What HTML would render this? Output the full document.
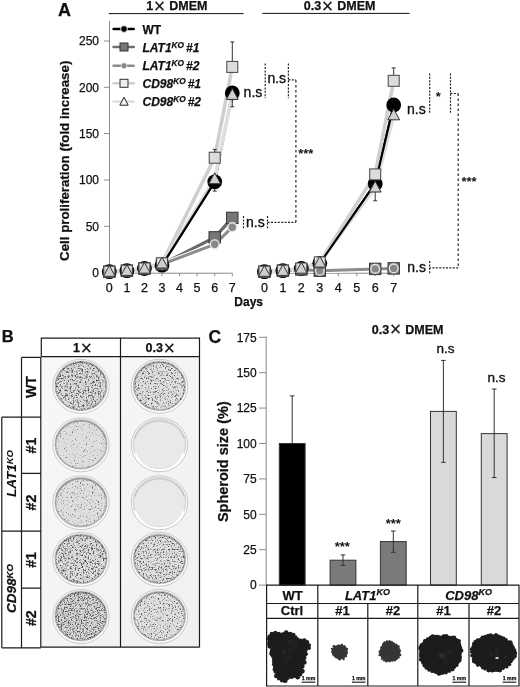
<!DOCTYPE html>
<html><head><meta charset="utf-8"><style>
html,body{margin:0;padding:0;background:#fff;width:520px;height:687px;overflow:hidden}
svg{display:block}
text{font-family:"Liberation Sans",Arial,sans-serif;fill:#111;stroke:#111;stroke-width:0.25px}
.b{font-weight:bold}
.i{font-style:italic}
.bi{font-weight:bold;font-style:italic}
.x{font-family:"DejaVu Sans",sans-serif;font-weight:normal}
.ns{stroke:#111;stroke-width:0.35px}
.st{stroke-width:0}
</style></head><body>
<svg width="520" height="687" viewBox="0 0 520 687">
<defs>
<linearGradient id="bgB" x1="0" y1="0" x2="1" y2="1"><stop offset="0" stop-color="#f8f8f8"/><stop offset="1" stop-color="#f0f0f0"/></linearGradient>
<filter id="bl"><feGaussianBlur stdDeviation="0.4"/></filter>
<filter id="sp_dense" x="0" y="0" width="1" height="1" filterUnits="objectBoundingBox" color-interpolation-filters="sRGB"><feTurbulence type="fractalNoise" baseFrequency="0.6" numOctaves="4" seed="3"/><feColorMatrix type="matrix" values="0 0 0 0 0.3  0 0 0 0 0.3  0 0 0 0 0.3  -4.000 0 0 0 2.037"/><feGaussianBlur stdDeviation="0.55"/></filter>
<filter id="sp_dense2" x="0" y="0" width="1" height="1" filterUnits="objectBoundingBox" color-interpolation-filters="sRGB"><feTurbulence type="fractalNoise" baseFrequency="0.7" numOctaves="4" seed="4"/><feColorMatrix type="matrix" values="0 0 0 0 0.3  0 0 0 0 0.3  0 0 0 0 0.3  -4.000 0 0 0 2.099"/><feGaussianBlur stdDeviation="0.5"/></filter>
<filter id="sp_med" x="0" y="0" width="1" height="1" filterUnits="objectBoundingBox" color-interpolation-filters="sRGB"><feTurbulence type="fractalNoise" baseFrequency="0.6" numOctaves="4" seed="5"/><feColorMatrix type="matrix" values="0 0 0 0 0.3  0 0 0 0 0.3  0 0 0 0 0.3  -4.000 0 0 0 1.884"/><feGaussianBlur stdDeviation="0.55"/></filter>
<filter id="sp_med2" x="0" y="0" width="1" height="1" filterUnits="objectBoundingBox" color-interpolation-filters="sRGB"><feTurbulence type="fractalNoise" baseFrequency="0.65" numOctaves="4" seed="6"/><feColorMatrix type="matrix" values="0 0 0 0 0.3  0 0 0 0 0.3  0 0 0 0 0.3  -4.000 0 0 0 1.830"/><feGaussianBlur stdDeviation="0.55"/></filter>
<filter id="sp_med3" x="0" y="0" width="1" height="1" filterUnits="objectBoundingBox" color-interpolation-filters="sRGB"><feTurbulence type="fractalNoise" baseFrequency="0.65" numOctaves="4" seed="7"/><feColorMatrix type="matrix" values="0 0 0 0 0.3  0 0 0 0 0.3  0 0 0 0 0.3  -4.000 0 0 0 1.965"/><feGaussianBlur stdDeviation="0.55"/></filter>
<filter id="sp_light" x="0" y="0" width="1" height="1" filterUnits="objectBoundingBox" color-interpolation-filters="sRGB"><feTurbulence type="fractalNoise" baseFrequency="0.65" numOctaves="4" seed="9"/><feColorMatrix type="matrix" values="0 0 0 0 0.3  0 0 0 0 0.3  0 0 0 0 0.3  -4.000 0 0 0 1.458"/><feGaussianBlur stdDeviation="0.5"/></filter>
<filter id="sp_light2" x="0" y="0" width="1" height="1" filterUnits="objectBoundingBox" color-interpolation-filters="sRGB"><feTurbulence type="fractalNoise" baseFrequency="0.65" numOctaves="4" seed="10"/><feColorMatrix type="matrix" values="0 0 0 0 0.3  0 0 0 0 0.3  0 0 0 0 0.3  -4.000 0 0 0 1.578"/><feGaussianBlur stdDeviation="0.5"/></filter>
<clipPath id="dc00"><ellipse cx="81.0" cy="385.8" rx="25.9" ry="24.6"/></clipPath>
<clipPath id="dc01"><ellipse cx="159.5" cy="385.8" rx="25.9" ry="24.6"/></clipPath>
<clipPath id="dc10"><ellipse cx="81.0" cy="444.3" rx="25.9" ry="24.6"/></clipPath>
<clipPath id="dc11"><ellipse cx="159.5" cy="444.3" rx="25.9" ry="24.6"/></clipPath>
<clipPath id="dc20"><ellipse cx="81.0" cy="502.2" rx="25.9" ry="24.6"/></clipPath>
<clipPath id="dc21"><ellipse cx="159.5" cy="502.2" rx="25.9" ry="24.6"/></clipPath>
<clipPath id="dc30"><ellipse cx="81.0" cy="558.8" rx="25.9" ry="24.6"/></clipPath>
<clipPath id="dc31"><ellipse cx="159.5" cy="558.8" rx="25.9" ry="24.6"/></clipPath>
<clipPath id="dc40"><ellipse cx="81.0" cy="616.0" rx="25.9" ry="24.6"/></clipPath>
<clipPath id="dc41"><ellipse cx="159.5" cy="616.0" rx="25.9" ry="24.6"/></clipPath>
</defs>
<rect width="520" height="687" fill="#fff"/>
<text x="58" y="16.4" class="b" font-size="18">A</text>
<text x="146.3" y="10.4" class="b" font-size="12.5">1<tspan class="x" font-size="15" dy="0.6">×</tspan><tspan dy="-0.6"> DMEM</tspan></text>
<line x1="108.7" y1="13.6" x2="243.6" y2="13.6" stroke="#111" stroke-width="1"/>
<text x="303.8" y="10.4" class="b" font-size="12.5">0.3<tspan class="x" font-size="15" dy="0.6">×</tspan><tspan dy="-0.6"> DMEM</tspan></text>
<line x1="262.4" y1="13.4" x2="409.5" y2="13.4" stroke="#111" stroke-width="1"/>
<text transform="translate(69.2,160.8) rotate(-90)" class="b" font-size="13.3" text-anchor="middle">Cell proliferation (fold increase)</text>
<line x1="109.5" y1="21" x2="109.5" y2="273.2" stroke="#8a8a8a" stroke-width="1"/>
<line x1="104" y1="272.6" x2="109.5" y2="272.6" stroke="#8a8a8a" stroke-width="1"/>
<text x="99" y="276.9" font-size="12" text-anchor="end">0</text>
<line x1="104" y1="226.3" x2="109.5" y2="226.3" stroke="#8a8a8a" stroke-width="1"/>
<text x="99" y="230.6" font-size="12" text-anchor="end">50</text>
<line x1="104" y1="180.0" x2="109.5" y2="180.0" stroke="#8a8a8a" stroke-width="1"/>
<text x="99" y="184.3" font-size="12" text-anchor="end">100</text>
<line x1="104" y1="133.6" x2="109.5" y2="133.6" stroke="#8a8a8a" stroke-width="1"/>
<text x="99" y="137.9" font-size="12" text-anchor="end">150</text>
<line x1="104" y1="87.3" x2="109.5" y2="87.3" stroke="#8a8a8a" stroke-width="1"/>
<text x="99" y="91.6" font-size="12" text-anchor="end">200</text>
<line x1="104" y1="41.0" x2="109.5" y2="41.0" stroke="#8a8a8a" stroke-width="1"/>
<text x="99" y="45.3" font-size="12" text-anchor="end">250</text>
<line x1="109.3" y1="273.2" x2="232.3" y2="273.2" stroke="#8a8a8a" stroke-width="1"/>
<line x1="109.3" y1="273.2" x2="109.3" y2="276.2" stroke="#8a8a8a" stroke-width="1"/>
<text x="109.3" y="291.5" font-size="12.5" text-anchor="middle">0</text>
<line x1="126.9" y1="273.2" x2="126.9" y2="276.2" stroke="#8a8a8a" stroke-width="1"/>
<text x="126.9" y="291.5" font-size="12.5" text-anchor="middle">1</text>
<line x1="144.4" y1="273.2" x2="144.4" y2="276.2" stroke="#8a8a8a" stroke-width="1"/>
<text x="144.4" y="291.5" font-size="12.5" text-anchor="middle">2</text>
<line x1="162.0" y1="273.2" x2="162.0" y2="276.2" stroke="#8a8a8a" stroke-width="1"/>
<text x="162.0" y="291.5" font-size="12.5" text-anchor="middle">3</text>
<line x1="179.6" y1="273.2" x2="179.6" y2="276.2" stroke="#8a8a8a" stroke-width="1"/>
<text x="179.6" y="291.5" font-size="12.5" text-anchor="middle">4</text>
<line x1="197.1" y1="273.2" x2="197.1" y2="276.2" stroke="#8a8a8a" stroke-width="1"/>
<text x="197.1" y="291.5" font-size="12.5" text-anchor="middle">5</text>
<line x1="214.7" y1="273.2" x2="214.7" y2="276.2" stroke="#8a8a8a" stroke-width="1"/>
<text x="214.7" y="291.5" font-size="12.5" text-anchor="middle">6</text>
<line x1="232.3" y1="273.2" x2="232.3" y2="276.2" stroke="#8a8a8a" stroke-width="1"/>
<text x="232.3" y="291.5" font-size="12.5" text-anchor="middle">7</text>
<line x1="264.4" y1="273.2" x2="393.7" y2="273.2" stroke="#8a8a8a" stroke-width="1"/>
<line x1="264.4" y1="273.2" x2="264.4" y2="276.2" stroke="#8a8a8a" stroke-width="1"/>
<text x="264.4" y="291.5" font-size="12.5" text-anchor="middle">0</text>
<line x1="282.9" y1="273.2" x2="282.9" y2="276.2" stroke="#8a8a8a" stroke-width="1"/>
<text x="282.9" y="291.5" font-size="12.5" text-anchor="middle">1</text>
<line x1="301.3" y1="273.2" x2="301.3" y2="276.2" stroke="#8a8a8a" stroke-width="1"/>
<text x="301.3" y="291.5" font-size="12.5" text-anchor="middle">2</text>
<line x1="319.8" y1="273.2" x2="319.8" y2="276.2" stroke="#8a8a8a" stroke-width="1"/>
<text x="319.8" y="291.5" font-size="12.5" text-anchor="middle">3</text>
<line x1="338.3" y1="273.2" x2="338.3" y2="276.2" stroke="#8a8a8a" stroke-width="1"/>
<text x="338.3" y="291.5" font-size="12.5" text-anchor="middle">4</text>
<line x1="356.8" y1="273.2" x2="356.8" y2="276.2" stroke="#8a8a8a" stroke-width="1"/>
<text x="356.8" y="291.5" font-size="12.5" text-anchor="middle">5</text>
<line x1="375.2" y1="273.2" x2="375.2" y2="276.2" stroke="#8a8a8a" stroke-width="1"/>
<text x="375.2" y="291.5" font-size="12.5" text-anchor="middle">6</text>
<line x1="393.7" y1="273.2" x2="393.7" y2="276.2" stroke="#8a8a8a" stroke-width="1"/>
<text x="393.7" y="291.5" font-size="12.5" text-anchor="middle">7</text>
<text x="248.7" y="306.2" class="b" font-size="12" text-anchor="middle">Days</text>
<polyline points="109.3,271.7 126.9,270.7 144.4,268.5 162.0,265.2 214.7,181.8 232.3,92.9" fill="none" stroke="#000" stroke-width="2.4" stroke-linejoin="round"/>
<polyline points="109.3,271.7 126.9,270.7 144.4,268.5 162.0,264.3 214.7,237.4 232.3,217.9" fill="none" stroke="#6a6a6a" stroke-width="3.2" stroke-linejoin="round"/>
<polyline points="109.3,271.7 126.9,270.7 144.4,268.5 162.0,264.3 214.7,244.3 232.3,227.2" fill="none" stroke="#fff" stroke-width="5.0" stroke-linejoin="round"/>
<polyline points="109.3,271.7 126.9,270.7 144.4,268.5 162.0,264.3 214.7,244.3 232.3,227.2" fill="none" stroke="#8c8c8c" stroke-width="3.0" stroke-linejoin="round"/>
<polyline points="109.3,271.7 126.9,270.7 144.4,268.5 162.0,263.3 214.7,157.7 232.3,66.9" fill="none" stroke="#cfcfcf" stroke-width="3.6" stroke-linejoin="round"/>
<polyline points="109.3,271.7 126.9,270.7 144.4,268.5 162.0,263.3 214.7,179.0 232.3,94.7" fill="none" stroke="#dedede" stroke-width="3.6" stroke-linejoin="round"/>
<polyline points="162.0,265.2 214.7,181.8" fill="none" stroke="#000" stroke-width="2.1" stroke-linejoin="round"/>
<line x1="214.7" y1="181.8" x2="214.7" y2="191.1" stroke="#333" stroke-width="1"/>
<line x1="212.7" y1="191.1" x2="216.7" y2="191.1" stroke="#333" stroke-width="1"/>
<line x1="232.3" y1="92.9" x2="232.3" y2="106.8" stroke="#333" stroke-width="1"/>
<line x1="230.3" y1="106.8" x2="234.3" y2="106.8" stroke="#333" stroke-width="1"/>
<line x1="214.7" y1="149.4" x2="214.7" y2="157.7" stroke="#333" stroke-width="1"/>
<line x1="212.7" y1="149.4" x2="216.7" y2="149.4" stroke="#333" stroke-width="1"/>
<line x1="232.3" y1="41.9" x2="232.3" y2="66.9" stroke="#333" stroke-width="1"/>
<line x1="230.3" y1="41.9" x2="234.3" y2="41.9" stroke="#333" stroke-width="1"/>
<circle cx="109.3" cy="271.7" r="7.4" fill="#000"/>
<circle cx="126.9" cy="270.7" r="7.4" fill="#000"/>
<circle cx="144.4" cy="268.5" r="7.4" fill="#000"/>
<circle cx="162.0" cy="265.2" r="7.4" fill="#000"/>
<circle cx="214.7" cy="181.8" r="7.4" fill="#000"/>
<circle cx="232.3" cy="92.9" r="7.4" fill="#000"/>
<rect x="103.6" y="266.0" width="11.4" height="11.4" fill="#777" stroke="#333" stroke-width="1"/>
<rect x="121.2" y="265.0" width="11.4" height="11.4" fill="#777" stroke="#333" stroke-width="1"/>
<rect x="138.7" y="262.8" width="11.4" height="11.4" fill="#777" stroke="#333" stroke-width="1"/>
<rect x="156.3" y="258.6" width="11.4" height="11.4" fill="#777" stroke="#333" stroke-width="1"/>
<rect x="209.0" y="231.7" width="11.4" height="11.4" fill="#777" stroke="#333" stroke-width="1"/>
<rect x="226.6" y="212.2" width="11.4" height="11.4" fill="#777" stroke="#333" stroke-width="1"/>
<circle cx="109.3" cy="271.7" r="4.4" fill="#888" stroke="#e6e6e6" stroke-width="1.4"/>
<circle cx="126.9" cy="270.7" r="4.4" fill="#888" stroke="#e6e6e6" stroke-width="1.4"/>
<circle cx="144.4" cy="268.5" r="4.4" fill="#888" stroke="#e6e6e6" stroke-width="1.4"/>
<circle cx="162.0" cy="264.3" r="4.4" fill="#888" stroke="#e6e6e6" stroke-width="1.4"/>
<circle cx="214.7" cy="244.3" r="4.4" fill="#888" stroke="#e6e6e6" stroke-width="1.4"/>
<circle cx="232.3" cy="227.2" r="4.4" fill="#888" stroke="#e6e6e6" stroke-width="1.4"/>
<rect x="103.8" y="266.2" width="11.0" height="11.0" fill="#dcdcdc" stroke="#444" stroke-width="1"/>
<rect x="121.4" y="265.2" width="11.0" height="11.0" fill="#dcdcdc" stroke="#444" stroke-width="1"/>
<rect x="138.9" y="263.0" width="11.0" height="11.0" fill="#dcdcdc" stroke="#444" stroke-width="1"/>
<rect x="156.5" y="257.8" width="11.0" height="11.0" fill="#dcdcdc" stroke="#444" stroke-width="1"/>
<rect x="209.2" y="152.2" width="11.0" height="11.0" fill="#dcdcdc" stroke="#444" stroke-width="1"/>
<rect x="226.8" y="61.4" width="11.0" height="11.0" fill="#dcdcdc" stroke="#444" stroke-width="1"/>
<path d="M109.3,265.5 L115.2,276.3 L103.4,276.3Z" fill="#cfcfcf" stroke="#333" stroke-width="1"/>
<path d="M126.9,264.5 L132.8,275.4 L121.0,275.4Z" fill="#cfcfcf" stroke="#333" stroke-width="1"/>
<path d="M144.4,262.3 L150.3,273.2 L138.6,273.2Z" fill="#cfcfcf" stroke="#333" stroke-width="1"/>
<path d="M162.0,257.1 L167.9,268.0 L156.1,268.0Z" fill="#cfcfcf" stroke="#333" stroke-width="1"/>
<path d="M214.7,172.8 L220.6,183.7 L208.8,183.7Z" fill="#cfcfcf" stroke="#333" stroke-width="1"/>
<path d="M232.3,88.5 L238.2,99.4 L226.4,99.4Z" fill="#cfcfcf" stroke="#333" stroke-width="1"/>
<polyline points="264.4,271.7 282.9,270.7 301.3,268.5 319.8,263.3 375.2,183.7 393.7,104.9" fill="none" stroke="#000" stroke-width="2.4" stroke-linejoin="round"/>
<polyline points="264.4,271.7 282.9,270.7 301.3,269.4 319.8,270.7 375.2,268.9 393.7,268.4" fill="none" stroke="#6a6a6a" stroke-width="3.2" stroke-linejoin="round"/>
<polyline points="264.4,271.7 282.9,270.7 301.3,269.4 319.8,270.7 375.2,268.9 393.7,268.4" fill="none" stroke="#fff" stroke-width="5.0" stroke-linejoin="round"/>
<polyline points="264.4,271.7 282.9,270.7 301.3,269.4 319.8,270.7 375.2,268.9 393.7,268.4" fill="none" stroke="#8c8c8c" stroke-width="3.0" stroke-linejoin="round"/>
<polyline points="264.4,271.7 282.9,270.7 301.3,268.5 319.8,262.4 375.2,174.4 393.7,80.8" fill="none" stroke="#cfcfcf" stroke-width="3.6" stroke-linejoin="round"/>
<polyline points="264.4,271.7 282.9,270.7 301.3,268.5 319.8,262.4 375.2,187.4 393.7,115.1" fill="none" stroke="#dedede" stroke-width="3.6" stroke-linejoin="round"/>
<polyline points="319.8,263.3 375.2,183.7 393.7,104.9" fill="none" stroke="#000" stroke-width="2.1" stroke-linejoin="round"/>
<line x1="375.2" y1="183.7" x2="375.2" y2="200.8" stroke="#333" stroke-width="1"/>
<line x1="373.2" y1="200.8" x2="377.2" y2="200.8" stroke="#333" stroke-width="1"/>
<line x1="393.7" y1="67.9" x2="393.7" y2="80.8" stroke="#333" stroke-width="1"/>
<line x1="391.7" y1="67.9" x2="395.7" y2="67.9" stroke="#333" stroke-width="1"/>
<circle cx="264.4" cy="271.7" r="7.4" fill="#000"/>
<circle cx="282.9" cy="270.7" r="7.4" fill="#000"/>
<circle cx="301.3" cy="268.5" r="7.4" fill="#000"/>
<circle cx="319.8" cy="263.3" r="7.4" fill="#000"/>
<circle cx="375.2" cy="183.7" r="7.4" fill="#000"/>
<circle cx="393.7" cy="104.9" r="7.4" fill="#000"/>
<rect x="258.7" y="266.0" width="11.4" height="11.4" fill="#777" stroke="#333" stroke-width="1"/>
<rect x="277.2" y="265.0" width="11.4" height="11.4" fill="#777" stroke="#333" stroke-width="1"/>
<rect x="295.6" y="263.7" width="11.4" height="11.4" fill="#777" stroke="#333" stroke-width="1"/>
<rect x="314.1" y="265.0" width="11.4" height="11.4" fill="#777" stroke="#333" stroke-width="1"/>
<rect x="369.5" y="263.2" width="11.4" height="11.4" fill="#777" stroke="#333" stroke-width="1"/>
<rect x="388.0" y="262.7" width="11.4" height="11.4" fill="#777" stroke="#333" stroke-width="1"/>
<circle cx="264.4" cy="271.7" r="4.4" fill="#888" stroke="#e6e6e6" stroke-width="1.4"/>
<circle cx="282.9" cy="270.7" r="4.4" fill="#888" stroke="#e6e6e6" stroke-width="1.4"/>
<circle cx="301.3" cy="269.4" r="4.4" fill="#888" stroke="#e6e6e6" stroke-width="1.4"/>
<circle cx="319.8" cy="270.7" r="4.4" fill="#888" stroke="#e6e6e6" stroke-width="1.4"/>
<circle cx="375.2" cy="268.9" r="4.4" fill="#888" stroke="#e6e6e6" stroke-width="1.4"/>
<circle cx="393.7" cy="268.4" r="4.4" fill="#888" stroke="#e6e6e6" stroke-width="1.4"/>
<rect x="258.9" y="266.2" width="11.0" height="11.0" fill="#dcdcdc" stroke="#444" stroke-width="1"/>
<rect x="277.4" y="265.2" width="11.0" height="11.0" fill="#dcdcdc" stroke="#444" stroke-width="1"/>
<rect x="295.8" y="263.0" width="11.0" height="11.0" fill="#dcdcdc" stroke="#444" stroke-width="1"/>
<rect x="314.3" y="256.9" width="11.0" height="11.0" fill="#dcdcdc" stroke="#444" stroke-width="1"/>
<rect x="369.7" y="168.9" width="11.0" height="11.0" fill="#dcdcdc" stroke="#444" stroke-width="1"/>
<rect x="388.2" y="75.3" width="11.0" height="11.0" fill="#dcdcdc" stroke="#444" stroke-width="1"/>
<path d="M264.4,265.5 L270.3,276.3 L258.5,276.3Z" fill="#cfcfcf" stroke="#333" stroke-width="1"/>
<path d="M282.9,264.5 L288.8,275.4 L277.0,275.4Z" fill="#cfcfcf" stroke="#333" stroke-width="1"/>
<path d="M301.3,262.3 L307.2,273.2 L295.4,273.2Z" fill="#cfcfcf" stroke="#333" stroke-width="1"/>
<path d="M319.8,256.2 L325.7,267.1 L313.9,267.1Z" fill="#cfcfcf" stroke="#333" stroke-width="1"/>
<path d="M375.2,181.2 L381.1,192.0 L369.3,192.0Z" fill="#cfcfcf" stroke="#333" stroke-width="1"/>
<path d="M393.7,108.9 L399.6,119.8 L387.8,119.8Z" fill="#cfcfcf" stroke="#333" stroke-width="1"/>
<line x1="113.5" y1="29" x2="133.8" y2="29" stroke="#000" stroke-width="2.4" stroke-linecap="round"/>
<circle cx="124" cy="29" r="3.4" fill="#000" stroke="#fff" stroke-width="0.9"/>
<line x1="113.5" y1="47" x2="133.8" y2="47" stroke="#6e6e6e" stroke-width="2.4" stroke-linecap="round"/>
<rect x="120" y="43" width="8" height="8" fill="#777" stroke="#333" stroke-width="1"/>
<line x1="113.5" y1="65.8" x2="133.8" y2="65.8" stroke="#8c8c8c" stroke-width="2.4" stroke-linecap="round"/>
<circle cx="124" cy="65.8" r="3.0" fill="#888" stroke="#eee" stroke-width="0.8"/>
<line x1="113.5" y1="83.3" x2="133.8" y2="83.3" stroke="#d0d0d0" stroke-width="2.4" stroke-linecap="round"/>
<rect x="120" y="79.3" width="8" height="8" fill="#eee" stroke="#333" stroke-width="1"/>
<line x1="113.5" y1="101.6" x2="133.8" y2="101.6" stroke="#dadada" stroke-width="2.4" stroke-linecap="round"/>
<path d="M124,97.19999999999999 L128.2,105.19999999999999 L119.8,105.19999999999999Z" fill="#f4f4f4" stroke="#222" stroke-width="1"/>
<text x="142.5" y="34.3" class="b" font-size="12">WT</text>
<text x="142.5" y="52.3" class="bi" font-size="12">LAT1<tspan font-size="8.3" dy="-4">KO</tspan><tspan dy="4" dx="2">#1</tspan></text>
<text x="142.5" y="70.3" class="bi" font-size="12">LAT1<tspan font-size="8.3" dy="-4">KO</tspan><tspan dy="4" dx="2">#2</tspan></text>
<text x="142.5" y="88.3" class="bi" font-size="12">CD98<tspan font-size="8.3" dy="-4">KO</tspan><tspan dy="4" dx="2">#1</tspan></text>
<text x="142.5" y="106.3" class="bi" font-size="12">CD98<tspan font-size="8.3" dy="-4">KO</tspan><tspan dy="4" dx="2">#2</tspan></text>
<path d="M265.2,63.6 V98.2 M288.4,63.6 V98.2 M288.4,79.9 H295.9 M267.6,222.3 H295.9 M267.5,216 V229.5 M243.5,216 V229.5" stroke="#222" stroke-width="1.2" stroke-dasharray="2,1.4" fill="none"/>
<path d="M295.9,79.9 V222.3" stroke="#222" stroke-width="1.2" stroke-dasharray="2.6,2.4" fill="none"/>
<text x="243.6" y="96.8" class="ns" font-size="14">n.s</text>
<text x="267.4" y="82.6" class="ns" font-size="14">n.s</text>
<text x="246" y="226.6" class="ns" font-size="14">n.s</text>
<text x="298.2" y="158.3" class="b st" font-size="13">***</text>
<path d="M429.7,73.4 V113.6 M450.5,73.4 V113.6 M450.5,93.5 H458.2 M458.2,267.8 H429.7 M429.7,261 V274" stroke="#222" stroke-width="1.2" stroke-dasharray="2,1.4" fill="none"/>
<path d="M458.2,93.5 V267.8" stroke="#222" stroke-width="1.2" stroke-dasharray="2.6,2.4" fill="none"/>
<text x="407" y="114.3" class="ns" font-size="14">n.s</text>
<text x="407.3" y="272" class="ns" font-size="14">n.s</text>
<text x="435.8" y="101" class="b st" font-size="13">*</text>
<text x="461.5" y="185.8" class="b st" font-size="13">***</text>
<text x="1.8" y="342" class="b" font-size="16.5">B</text>
<rect x="41.3" y="356.6" width="158.2" height="290.6" fill="url(#bgB)"/>
<ellipse cx="81.0" cy="386.3" rx="28.2" ry="27.0" fill="#fdfdfd" stroke="#bdbdbd" stroke-width="0.8"/>
<ellipse cx="81.0" cy="385.8" rx="26.2" ry="24.9" fill="#dcdcdc" stroke="#b0b0b0" stroke-width="0.6"/>
<rect x="52.8" y="359.3" width="56.4" height="54.0" filter="url(#sp_dense)" clip-path="url(#dc00)"/>
<ellipse cx="81.0" cy="385.90000000000003" rx="25.3" ry="24.0" fill="none" stroke="#555" stroke-opacity="0.3" stroke-width="1.4" filter="url(#bl)"/>
<path d="M56.3,380.3 A25.7,24.5 0 0 1 105.7,380.3" fill="none" stroke="#555" stroke-opacity="0.35" stroke-width="1.3"/>
<ellipse cx="159.5" cy="386.3" rx="28.2" ry="27.0" fill="#fdfdfd" stroke="#bdbdbd" stroke-width="0.8"/>
<ellipse cx="159.5" cy="385.8" rx="26.2" ry="24.9" fill="#e0e0e0" stroke="#b0b0b0" stroke-width="0.6"/>
<rect x="131.3" y="359.3" width="56.4" height="54.0" filter="url(#sp_med)" clip-path="url(#dc01)"/>
<ellipse cx="159.5" cy="385.90000000000003" rx="25.3" ry="24.0" fill="none" stroke="#555" stroke-opacity="0.3" stroke-width="1.4" filter="url(#bl)"/>
<path d="M134.8,380.3 A25.7,24.5 0 0 1 184.2,380.3" fill="none" stroke="#555" stroke-opacity="0.35" stroke-width="1.3"/>
<ellipse cx="81.0" cy="444.8" rx="28.2" ry="27.0" fill="#fdfdfd" stroke="#bdbdbd" stroke-width="0.8"/>
<ellipse cx="81.0" cy="444.3" rx="26.2" ry="24.9" fill="#dedede" stroke="#b0b0b0" stroke-width="0.6"/>
<rect x="52.8" y="417.8" width="56.4" height="54.0" filter="url(#sp_light)" clip-path="url(#dc10)"/>
<ellipse cx="81.0" cy="444.40000000000003" rx="25.3" ry="24.0" fill="none" stroke="#555" stroke-opacity="0.3" stroke-width="1.4" filter="url(#bl)"/>
<path d="M56.3,438.8 A25.7,24.5 0 0 1 105.7,438.8" fill="none" stroke="#555" stroke-opacity="0.35" stroke-width="1.3"/>
<ellipse cx="159.5" cy="444.8" rx="28.2" ry="27.0" fill="#fdfdfd" stroke="#bdbdbd" stroke-width="0.8"/>
<ellipse cx="159.5" cy="444.3" rx="26.2" ry="24.9" fill="#e9e9e9" stroke="#b0b0b0" stroke-width="0.6"/>
<path d="M134.8,438.8 A25.7,24.5 0 0 1 184.2,438.8" fill="none" stroke="#555" stroke-opacity="0.2" stroke-width="1.3"/>
<path d="M135.3,452.8 A25.2,24.0 0 0 0 183.7,452.8" fill="none" stroke="#fff" stroke-width="2"/>
<ellipse cx="81.0" cy="502.7" rx="28.2" ry="27.0" fill="#fdfdfd" stroke="#bdbdbd" stroke-width="0.8"/>
<ellipse cx="81.0" cy="502.2" rx="26.2" ry="24.9" fill="#dedede" stroke="#b0b0b0" stroke-width="0.6"/>
<rect x="52.8" y="475.7" width="56.4" height="54.0" filter="url(#sp_light2)" clip-path="url(#dc20)"/>
<ellipse cx="81.0" cy="502.3" rx="25.3" ry="24.0" fill="none" stroke="#555" stroke-opacity="0.3" stroke-width="1.4" filter="url(#bl)"/>
<path d="M56.3,496.7 A25.7,24.5 0 0 1 105.7,496.7" fill="none" stroke="#555" stroke-opacity="0.35" stroke-width="1.3"/>
<ellipse cx="159.5" cy="502.7" rx="28.2" ry="27.0" fill="#fdfdfd" stroke="#bdbdbd" stroke-width="0.8"/>
<ellipse cx="159.5" cy="502.2" rx="26.2" ry="24.9" fill="#e9e9e9" stroke="#b0b0b0" stroke-width="0.6"/>
<path d="M134.8,496.7 A25.7,24.5 0 0 1 184.2,496.7" fill="none" stroke="#555" stroke-opacity="0.2" stroke-width="1.3"/>
<path d="M135.3,510.7 A25.2,24.0 0 0 0 183.7,510.7" fill="none" stroke="#fff" stroke-width="2"/>
<ellipse cx="81.0" cy="559.3" rx="28.2" ry="27.0" fill="#fdfdfd" stroke="#bdbdbd" stroke-width="0.8"/>
<ellipse cx="81.0" cy="558.8" rx="26.2" ry="24.9" fill="#dedede" stroke="#b0b0b0" stroke-width="0.6"/>
<rect x="52.8" y="532.3" width="56.4" height="54.0" filter="url(#sp_dense)" clip-path="url(#dc30)"/>
<ellipse cx="81.0" cy="558.9" rx="25.3" ry="24.0" fill="none" stroke="#555" stroke-opacity="0.3" stroke-width="1.4" filter="url(#bl)"/>
<path d="M56.3,553.3 A25.7,24.5 0 0 1 105.7,553.3" fill="none" stroke="#555" stroke-opacity="0.35" stroke-width="1.3"/>
<ellipse cx="159.5" cy="559.3" rx="28.2" ry="27.0" fill="#fdfdfd" stroke="#bdbdbd" stroke-width="0.8"/>
<ellipse cx="159.5" cy="558.8" rx="26.2" ry="24.9" fill="#e0e0e0" stroke="#b0b0b0" stroke-width="0.6"/>
<rect x="131.3" y="532.3" width="56.4" height="54.0" filter="url(#sp_med3)" clip-path="url(#dc31)"/>
<ellipse cx="159.5" cy="558.9" rx="25.3" ry="24.0" fill="none" stroke="#555" stroke-opacity="0.3" stroke-width="1.4" filter="url(#bl)"/>
<path d="M134.8,553.3 A25.7,24.5 0 0 1 184.2,553.3" fill="none" stroke="#555" stroke-opacity="0.35" stroke-width="1.3"/>
<ellipse cx="81.0" cy="616.5" rx="28.2" ry="27.0" fill="#fdfdfd" stroke="#bdbdbd" stroke-width="0.8"/>
<ellipse cx="81.0" cy="616.0" rx="26.2" ry="24.9" fill="#d8d8d8" stroke="#b0b0b0" stroke-width="0.6"/>
<rect x="52.8" y="589.5" width="56.4" height="54.0" filter="url(#sp_dense2)" clip-path="url(#dc40)"/>
<ellipse cx="81.0" cy="616.1" rx="25.3" ry="24.0" fill="none" stroke="#555" stroke-opacity="0.3" stroke-width="1.4" filter="url(#bl)"/>
<path d="M56.3,610.5 A25.7,24.5 0 0 1 105.7,610.5" fill="none" stroke="#555" stroke-opacity="0.35" stroke-width="1.3"/>
<ellipse cx="159.5" cy="616.5" rx="28.2" ry="27.0" fill="#fdfdfd" stroke="#bdbdbd" stroke-width="0.8"/>
<ellipse cx="159.5" cy="616.0" rx="26.2" ry="24.9" fill="#e0e0e0" stroke="#b0b0b0" stroke-width="0.6"/>
<rect x="131.3" y="589.5" width="56.4" height="54.0" filter="url(#sp_med2)" clip-path="url(#dc41)"/>
<ellipse cx="159.5" cy="616.1" rx="25.3" ry="24.0" fill="none" stroke="#555" stroke-opacity="0.3" stroke-width="1.4" filter="url(#bl)"/>
<path d="M134.8,610.5 A25.7,24.5 0 0 1 184.2,610.5" fill="none" stroke="#555" stroke-opacity="0.35" stroke-width="1.3"/>
<path d="M41.3,356.6 V338.2 H199.5 V356.6 M120.5,338.2 V647.2 M199.5,356.6 V647.2 M41.3,356.6 H199.5 M41.3,647.2 H199.5" stroke="#1a1a1a" stroke-width="1.2" fill="none"/>
<path d="M21.5,357.4 H40.8 V647.8 M21.5,357.4 V647.8 M21.5,417.2 H40.8 M21.5,473.4 H40.8 M21.5,531.2 H40.8 M21.5,588.1 H40.8 M1.8,647.8 H40.8" stroke="#1a1a1a" stroke-width="1.2" fill="none"/>
<path d="M1.8,417.2 H21.5 M1.8,417.2 V647.8 M1.8,531.2 H21.5" stroke="#1a1a1a" stroke-width="1.2" fill="none"/>
<text x="82.8" y="352" class="b" font-size="12.5" text-anchor="middle">1<tspan class="x" font-size="15" dy="0.6">×</tspan></text>
<text x="160.5" y="352" class="b" font-size="12.5" text-anchor="middle">0.3<tspan class="x" font-size="15" dy="0.6">×</tspan></text>
<text transform="translate(36.0,387) rotate(-90)" class="b" font-size="14.2" text-anchor="middle">WT</text>
<text transform="translate(36.0,445.6) rotate(-90)" class="b" font-size="14.2" text-anchor="middle">#1</text>
<text transform="translate(36.0,502.6) rotate(-90)" class="b" font-size="14.2" text-anchor="middle">#2</text>
<text transform="translate(36.0,559.9) rotate(-90)" class="b" font-size="14.2" text-anchor="middle">#1</text>
<text transform="translate(36.0,618.2) rotate(-90)" class="b" font-size="14.2" text-anchor="middle">#2</text>
<text transform="translate(16.4,473.5) rotate(-90)" class="bi" font-size="13.5" text-anchor="middle" style="stroke-width:0.1px">LAT1<tspan font-size="9.5" dy="-3.6">KO</tspan></text>
<text transform="translate(16.4,588.6) rotate(-90)" class="bi" font-size="13.5" text-anchor="middle">CD98<tspan font-size="9.5" dy="-3.6" class="i">KO</tspan></text>
<text x="208.4" y="342.9" class="b" font-size="17.5">C</text>
<text x="371.8" y="333.6" class="b" font-size="12.5">0.3<tspan class="x" font-size="15" dy="0.6">×</tspan><tspan dy="-0.6"> DMEM</tspan></text>
<line x1="266.2" y1="336.6" x2="266.2" y2="585.1" stroke="#8a8a8a" stroke-width="1"/>
<line x1="259" y1="585.1" x2="266.2" y2="585.1" stroke="#8a8a8a" stroke-width="1"/>
<text x="256.7" y="589.3" font-size="12" text-anchor="end">0</text>
<line x1="259" y1="549.7" x2="266.2" y2="549.7" stroke="#8a8a8a" stroke-width="1"/>
<text x="256.7" y="553.9" font-size="12" text-anchor="end">25</text>
<line x1="259" y1="514.3" x2="266.2" y2="514.3" stroke="#8a8a8a" stroke-width="1"/>
<text x="256.7" y="518.5" font-size="12" text-anchor="end">50</text>
<line x1="259" y1="478.9" x2="266.2" y2="478.9" stroke="#8a8a8a" stroke-width="1"/>
<text x="256.7" y="483.1" font-size="12" text-anchor="end">75</text>
<line x1="259" y1="443.5" x2="266.2" y2="443.5" stroke="#8a8a8a" stroke-width="1"/>
<text x="256.7" y="447.7" font-size="12" text-anchor="end">100</text>
<line x1="259" y1="408.1" x2="266.2" y2="408.1" stroke="#8a8a8a" stroke-width="1"/>
<text x="256.7" y="412.3" font-size="12" text-anchor="end">125</text>
<line x1="259" y1="372.7" x2="266.2" y2="372.7" stroke="#8a8a8a" stroke-width="1"/>
<text x="256.7" y="376.9" font-size="12" text-anchor="end">150</text>
<line x1="259" y1="337.3" x2="266.2" y2="337.3" stroke="#8a8a8a" stroke-width="1"/>
<text x="256.7" y="341.5" font-size="12" text-anchor="end">175</text>
<text transform="translate(227.6,461.7) rotate(-90)" class="b" font-size="14.5" text-anchor="middle">Spheroid size (%)</text>
<rect x="279.3" y="443.5" width="25.8" height="141.6" fill="#000" stroke="#333" stroke-width="1"/>
<path d="M292.2,395.9 V443.5 M289.9,395.9 H294.5" stroke="#333" stroke-width="1" fill="none"/>
<rect x="330.1" y="560.2" width="25.8" height="24.9" fill="#7a7a7a" stroke="#333" stroke-width="1"/>
<path d="M343.0,554.9 V565.4 M340.7,554.9 H345.3 M340.7,565.4 H345.3" stroke="#333" stroke-width="1" fill="none"/>
<rect x="380.4" y="541.6" width="25.8" height="43.5" fill="#7a7a7a" stroke="#333" stroke-width="1"/>
<path d="M393.3,531.0 V552.3 M391.0,531.0 H395.6 M391.0,552.3 H395.6" stroke="#333" stroke-width="1" fill="none"/>
<rect x="430.5" y="411.4" width="25.8" height="173.7" fill="#d9d9d9" stroke="#333" stroke-width="1"/>
<path d="M443.4,360.4 V462.3 M441.1,360.4 H445.7 M441.1,462.3 H445.7" stroke="#333" stroke-width="1" fill="none"/>
<rect x="481.3" y="433.6" width="25.8" height="151.5" fill="#d9d9d9" stroke="#333" stroke-width="1"/>
<path d="M494.2,389.0 V477.5 M491.9,389.0 H496.5 M491.9,477.5 H496.5" stroke="#333" stroke-width="1" fill="none"/>
<text x="342.3" y="551.3" class="b st" font-size="13" text-anchor="middle">***</text>
<text x="393.3" y="528.3" class="b st" font-size="13" text-anchor="middle">***</text>
<text x="445.6" y="353.3" class="ns" font-size="13.5" text-anchor="middle">n.s</text>
<text x="496.4" y="382.1" class="ns" font-size="13.5" text-anchor="middle">n.s</text>
<path d="M266.6,585.1 H519 V686 H266.6 Z M266.6,603.5 H519 M266.6,618.3 H519 M317.8,585.1 V686 M417.8,585.1 V686 M367.8,603.5 V686 M469,603.5 V686" stroke="#1a1a1a" stroke-width="1.2" fill="none"/>
<text x="292.5" y="600.2" class="b" font-size="13" text-anchor="middle">WT</text>
<text x="292" y="615.2" class="b" font-size="13" text-anchor="middle">Ctrl</text>
<text x="367.4" y="599.6" class="bi" font-size="13" text-anchor="middle">LAT1<tspan font-size="9" dy="-4.3">KO</tspan></text>
<text x="468.6" y="599.6" class="bi" font-size="13" text-anchor="middle">CD98<tspan font-size="9" dy="-4.3">KO</tspan></text>
<text x="342.5" y="615.2" class="b" font-size="13" text-anchor="middle">#1</text>
<text x="393" y="615.2" class="b" font-size="13" text-anchor="middle">#2</text>
<text x="443.4" y="615.2" class="b" font-size="13" text-anchor="middle">#1</text>
<text x="494" y="615.2" class="b" font-size="13" text-anchor="middle">#2</text>
<g fill="#1e1e1e" filter="url(#bl)"><path d="M269.2,636.2 L271.3,633.5 L275.0,632.5 L278.8,634.0 L282.5,632.8 L286.2,632.1 L290.4,633.0 L293.6,634.6 L295.7,637.2 L297.8,638.8 L301.0,639.9 L304.7,640.4 L307.8,641.4 L310.3,644.6 L309.4,647.8 L306.8,649.9 L306.8,654.1 L305.7,658.4 L304.7,662.6 L303.1,666.8 L302.0,671.1 L301.0,675.3 L297.8,677.4 L294.1,676.1 L291.4,676.9 L287.7,678.5 L285.1,680.4 L281.9,680.8 L278.2,679.5 L276.1,676.3 L275.0,672.1 L274.5,666.8 L273.5,661.5 L272.4,656.3 L270.8,651.0 L269.8,646.7 L269.0,641.4Z"/><circle cx="269.2" cy="636.1" r="1.7"/><circle cx="271.9" cy="634.1" r="2.4"/><circle cx="275.3" cy="632.9" r="2.1"/><circle cx="278.8" cy="634.1" r="2.3"/><circle cx="282.8" cy="633.9" r="1.7"/><circle cx="286.2" cy="632.7" r="2.4"/><circle cx="290.3" cy="634.2" r="2.4"/><circle cx="293.5" cy="634.7" r="2.0"/><circle cx="295.7" cy="637.0" r="1.8"/><circle cx="297.2" cy="639.8" r="2.5"/><circle cx="300.7" cy="640.2" r="1.6"/><circle cx="304.2" cy="640.8" r="2.5"/><circle cx="307.4" cy="641.8" r="1.8"/><circle cx="309.5" cy="645.0" r="1.6"/><circle cx="309.0" cy="647.9" r="2.0"/><circle cx="306.0" cy="650.1" r="1.8"/><circle cx="306.3" cy="654.1" r="1.8"/><circle cx="304.6" cy="658.1" r="1.9"/><circle cx="304.3" cy="662.4" r="2.4"/><circle cx="302.4" cy="666.2" r="2.2"/><circle cx="302.1" cy="671.1" r="2.6"/><circle cx="300.6" cy="674.7" r="1.7"/><circle cx="297.7" cy="677.3" r="2.3"/><circle cx="294.0" cy="675.6" r="2.5"/><circle cx="291.4" cy="676.7" r="2.4"/><circle cx="287.8" cy="678.1" r="1.9"/><circle cx="285.1" cy="680.4" r="2.5"/><circle cx="282.0" cy="680.5" r="2.1"/><circle cx="278.6" cy="678.8" r="1.6"/><circle cx="276.4" cy="675.9" r="2.4"/><circle cx="275.3" cy="671.8" r="1.8"/><circle cx="274.9" cy="669.3" r="2.3"/><circle cx="274.9" cy="666.5" r="2.0"/><circle cx="274.0" cy="664.2" r="2.1"/><circle cx="274.0" cy="661.3" r="2.1"/><circle cx="274.0" cy="658.6" r="2.1"/><circle cx="272.5" cy="656.2" r="1.6"/><circle cx="271.9" cy="653.6" r="2.6"/><circle cx="271.7" cy="651.1" r="2.0"/><circle cx="269.5" cy="646.6" r="2.1"/><circle cx="269.7" cy="644.3" r="2.4"/><circle cx="269.7" cy="641.9" r="2.5"/><circle cx="268.9" cy="638.7" r="2.1"/></g><circle cx="284.1" cy="651.2" r="1.9" fill="#fff" fill-opacity="0.025"/><circle cx="277.7" cy="650.1" r="1.5" fill="#fff" fill-opacity="0.025"/><circle cx="291.4" cy="641.9" r="2.8" fill="#fff" fill-opacity="0.025"/><circle cx="288.6" cy="641.8" r="2.3" fill="#fff" fill-opacity="0.025"/><circle cx="284.2" cy="652.0" r="1.6" fill="#fff" fill-opacity="0.025"/><circle cx="294.1" cy="648.0" r="1.8" fill="#fff" fill-opacity="0.025"/><circle cx="283.1" cy="654.3" r="2.0" fill="#fff" fill-opacity="0.025"/><circle cx="285.4" cy="661.5" r="2.4" fill="#fff" fill-opacity="0.025"/><circle cx="284.8" cy="649.9" r="1.5" fill="#fff" fill-opacity="0.025"/><circle cx="289.5" cy="657.3" r="2.4" fill="#fff" fill-opacity="0.025"/><circle cx="295.7" cy="644.9" r="2.7" fill="#fff" fill-opacity="0.025"/><circle cx="290.5" cy="650.9" r="2.8" fill="#fff" fill-opacity="0.025"/>
<g fill="#363636" filter="url(#bl)"><path d="M334.2,646.5 L338.1,644.5 L341.9,645.0 L345.0,645.8 L347.3,648.8 L347.8,652.7 L346.5,656.5 L343.5,658.8 L339.6,659.6 L335.8,658.1 L332.7,655.8 L331.5,651.9 L331.9,648.8Z"/><circle cx="334.0" cy="646.3" r="1.4"/><circle cx="338.3" cy="645.5" r="0.8"/><circle cx="341.9" cy="645.1" r="1.3"/><circle cx="344.5" cy="646.4" r="1.2"/><circle cx="347.0" cy="648.9" r="1.2"/><circle cx="346.8" cy="652.6" r="1.1"/><circle cx="346.0" cy="656.2" r="1.1"/><circle cx="343.6" cy="659.1" r="1.2"/><circle cx="339.6" cy="659.2" r="1.4"/><circle cx="336.2" cy="657.4" r="1.1"/><circle cx="333.7" cy="655.2" r="0.8"/><circle cx="332.2" cy="651.9" r="1.1"/><circle cx="331.8" cy="648.8" r="1.0"/></g>
<g fill="#363636" filter="url(#bl)"><path d="M384.2,641.9 L389.6,640.4 L394.2,642.7 L398.8,646.5 L400.7,650.4 L400.1,655.0 L397.3,659.6 L392.7,661.5 L386.5,661.2 L381.9,658.8 L379.6,655.0 L378.8,651.9 L381.2,647.3 L382.7,643.5Z"/><circle cx="384.4" cy="642.2" r="1.0"/><circle cx="387.0" cy="641.4" r="1.1"/><circle cx="389.6" cy="641.5" r="1.2"/><circle cx="391.9" cy="641.5" r="0.8"/><circle cx="393.8" cy="643.4" r="1.0"/><circle cx="396.1" cy="644.9" r="1.5"/><circle cx="398.4" cy="646.7" r="1.4"/><circle cx="399.7" cy="650.5" r="1.2"/><circle cx="400.2" cy="655.0" r="1.2"/><circle cx="398.6" cy="657.3" r="1.2"/><circle cx="396.5" cy="658.8" r="1.3"/><circle cx="394.8" cy="660.3" r="1.3"/><circle cx="392.3" cy="660.4" r="1.0"/><circle cx="389.6" cy="660.9" r="1.4"/><circle cx="386.5" cy="661.3" r="1.3"/><circle cx="384.1" cy="660.2" r="1.3"/><circle cx="381.9" cy="658.8" r="1.1"/><circle cx="379.4" cy="655.1" r="1.1"/><circle cx="379.9" cy="651.8" r="1.4"/><circle cx="380.9" cy="649.7" r="0.9"/><circle cx="381.7" cy="647.5" r="1.5"/><circle cx="383.2" cy="644.1" r="1.2"/></g>
<g fill="#1b1b1b" filter="url(#bl)"><path d="M424.0,640.0 L430.0,637.0 L438.0,636.0 L446.0,636.4 L454.0,638.0 L459.0,641.0 L461.0,647.0 L460.4,654.0 L459.0,660.0 L457.0,665.0 L453.0,670.0 L446.0,673.0 L439.0,674.0 L432.0,671.6 L426.0,668.0 L422.0,663.0 L420.0,656.0 L421.0,648.0Z"/><circle cx="424.8" cy="640.7" r="1.8"/><circle cx="427.7" cy="639.2" r="2.0"/><circle cx="430.3" cy="637.5" r="1.7"/><circle cx="432.7" cy="636.7" r="2.5"/><circle cx="435.6" cy="637.2" r="2.4"/><circle cx="438.1" cy="636.8" r="2.1"/><circle cx="440.7" cy="637.2" r="1.8"/><circle cx="443.4" cy="636.1" r="1.8"/><circle cx="446.0" cy="636.4" r="2.4"/><circle cx="448.3" cy="637.8" r="2.4"/><circle cx="451.2" cy="637.7" r="1.9"/><circle cx="454.0" cy="637.9" r="2.3"/><circle cx="455.7" cy="640.3" r="2.5"/><circle cx="458.8" cy="641.1" r="2.2"/><circle cx="459.2" cy="644.5" r="2.1"/><circle cx="460.0" cy="647.4" r="2.1"/><circle cx="460.8" cy="650.5" r="2.5"/><circle cx="459.7" cy="654.0" r="2.1"/><circle cx="459.4" cy="657.0" r="2.5"/><circle cx="459.1" cy="660.0" r="2.5"/><circle cx="457.5" cy="662.2" r="2.1"/><circle cx="456.5" cy="664.7" r="2.2"/><circle cx="454.5" cy="667.0" r="1.8"/><circle cx="452.3" cy="669.1" r="2.4"/><circle cx="449.4" cy="671.3" r="1.6"/><circle cx="445.9" cy="672.6" r="1.9"/><circle cx="442.5" cy="672.8" r="2.1"/><circle cx="439.1" cy="673.1" r="2.6"/><circle cx="435.8" cy="671.9" r="2.0"/><circle cx="432.4" cy="670.9" r="2.2"/><circle cx="429.1" cy="669.7" r="2.0"/><circle cx="426.3" cy="667.8" r="1.9"/><circle cx="424.9" cy="664.9" r="2.5"/><circle cx="422.8" cy="662.7" r="1.7"/><circle cx="421.3" cy="659.4" r="2.4"/><circle cx="420.7" cy="655.9" r="1.8"/><circle cx="420.8" cy="653.4" r="1.8"/><circle cx="420.8" cy="650.7" r="1.6"/><circle cx="420.8" cy="647.9" r="2.5"/><circle cx="421.8" cy="645.2" r="2.3"/><circle cx="423.6" cy="643.1" r="1.6"/></g><circle cx="450.4" cy="652.4" r="2.1" fill="#fff" fill-opacity="0.025"/><circle cx="448.3" cy="651.8" r="2.7" fill="#fff" fill-opacity="0.025"/><circle cx="440.9" cy="656.5" r="2.2" fill="#fff" fill-opacity="0.025"/><circle cx="444.4" cy="657.7" r="2.9" fill="#fff" fill-opacity="0.025"/><circle cx="441.5" cy="654.4" r="1.6" fill="#fff" fill-opacity="0.025"/><circle cx="446.0" cy="662.4" r="2.0" fill="#fff" fill-opacity="0.025"/><circle cx="441.2" cy="655.4" r="3.0" fill="#fff" fill-opacity="0.025"/><circle cx="439.4" cy="655.5" r="1.6" fill="#fff" fill-opacity="0.025"/><circle cx="443.4" cy="655.0" r="2.5" fill="#fff" fill-opacity="0.025"/><circle cx="441.8" cy="654.7" r="2.2" fill="#fff" fill-opacity="0.025"/>
<g fill="#1b1b1b" filter="url(#bl)"><path d="M474.0,644.0 L480.0,639.0 L488.0,635.0 L496.0,635.0 L504.0,638.0 L510.0,643.0 L514.4,650.0 L515.0,656.0 L512.0,662.0 L507.0,667.0 L500.0,670.4 L492.0,671.0 L485.0,669.0 L478.0,665.0 L473.0,659.0 L471.6,652.0Z"/><circle cx="474.1" cy="644.0" r="2.2"/><circle cx="475.8" cy="642.2" r="2.4"/><circle cx="477.9" cy="640.6" r="2.3"/><circle cx="480.3" cy="639.4" r="1.6"/><circle cx="482.8" cy="637.9" r="2.5"/><circle cx="485.8" cy="637.3" r="2.5"/><circle cx="488.2" cy="635.8" r="2.1"/><circle cx="490.7" cy="635.3" r="2.1"/><circle cx="493.4" cy="635.9" r="1.6"/><circle cx="496.0" cy="634.8" r="1.9"/><circle cx="498.4" cy="636.9" r="2.4"/><circle cx="500.9" cy="637.9" r="2.4"/><circle cx="503.4" cy="638.8" r="2.2"/><circle cx="506.1" cy="639.6" r="1.6"/><circle cx="507.3" cy="641.9" r="1.8"/><circle cx="510.1" cy="642.9" r="2.6"/><circle cx="511.7" cy="645.2" r="1.9"/><circle cx="512.8" cy="647.7" r="2.1"/><circle cx="514.6" cy="650.0" r="1.8"/><circle cx="514.9" cy="653.0" r="2.3"/><circle cx="514.3" cy="655.9" r="2.5"/><circle cx="512.6" cy="658.7" r="2.0"/><circle cx="511.0" cy="661.5" r="1.7"/><circle cx="509.3" cy="664.3" r="1.9"/><circle cx="506.9" cy="666.9" r="1.6"/><circle cx="503.1" cy="668.1" r="1.9"/><circle cx="499.8" cy="670.0" r="2.4"/><circle cx="497.2" cy="670.1" r="1.9"/><circle cx="494.6" cy="669.7" r="2.3"/><circle cx="492.1" cy="669.8" r="2.6"/><circle cx="488.5" cy="670.1" r="2.3"/><circle cx="485.0" cy="669.0" r="1.6"/><circle cx="482.9" cy="667.4" r="2.0"/><circle cx="481.1" cy="665.6" r="1.6"/><circle cx="477.8" cy="665.1" r="1.8"/><circle cx="476.4" cy="663.0" r="1.8"/><circle cx="474.5" cy="661.1" r="2.5"/><circle cx="473.6" cy="658.8" r="1.9"/><circle cx="472.3" cy="655.5" r="2.1"/><circle cx="471.7" cy="652.0" r="1.7"/><circle cx="472.3" cy="649.3" r="2.4"/><circle cx="473.0" cy="646.6" r="1.6"/></g><circle cx="497.4" cy="655.4" r="2.4" fill="#fff" fill-opacity="0.025"/><circle cx="497.5" cy="651.7" r="2.9" fill="#fff" fill-opacity="0.025"/><circle cx="489.9" cy="652.5" r="2.0" fill="#fff" fill-opacity="0.025"/><circle cx="494.2" cy="654.2" r="1.7" fill="#fff" fill-opacity="0.025"/><circle cx="489.0" cy="643.7" r="1.7" fill="#fff" fill-opacity="0.025"/><circle cx="505.7" cy="656.6" r="2.3" fill="#fff" fill-opacity="0.025"/><circle cx="491.2" cy="654.9" r="2.4" fill="#fff" fill-opacity="0.025"/><circle cx="496.4" cy="649.2" r="2.1" fill="#fff" fill-opacity="0.025"/><circle cx="504.7" cy="656.8" r="1.5" fill="#fff" fill-opacity="0.025"/><circle cx="483.1" cy="653.8" r="1.7" fill="#fff" fill-opacity="0.025"/>
<ellipse cx="497" cy="658" rx="1.8" ry="1" fill="#ddd"/>
<text x="308.5" y="680.2" class="b" font-size="5.2" text-anchor="middle">1 mm</text>
<line x1="301.7" y1="682.2" x2="315.3" y2="682.2" stroke="#222" stroke-width="1.2"/>
<text x="358.7" y="680.2" class="b" font-size="5.2" text-anchor="middle">1 mm</text>
<line x1="351.9" y1="682.2" x2="365.5" y2="682.2" stroke="#222" stroke-width="1.2"/>
<text x="459.3" y="680.2" class="b" font-size="5.2" text-anchor="middle">1 mm</text>
<line x1="452.5" y1="682.2" x2="466.1" y2="682.2" stroke="#222" stroke-width="1.2"/>
<text x="509.5" y="680.2" class="b" font-size="5.2" text-anchor="middle">1 mm</text>
<line x1="502.7" y1="682.2" x2="516.3" y2="682.2" stroke="#222" stroke-width="1.2"/>
</svg>
</body></html>
